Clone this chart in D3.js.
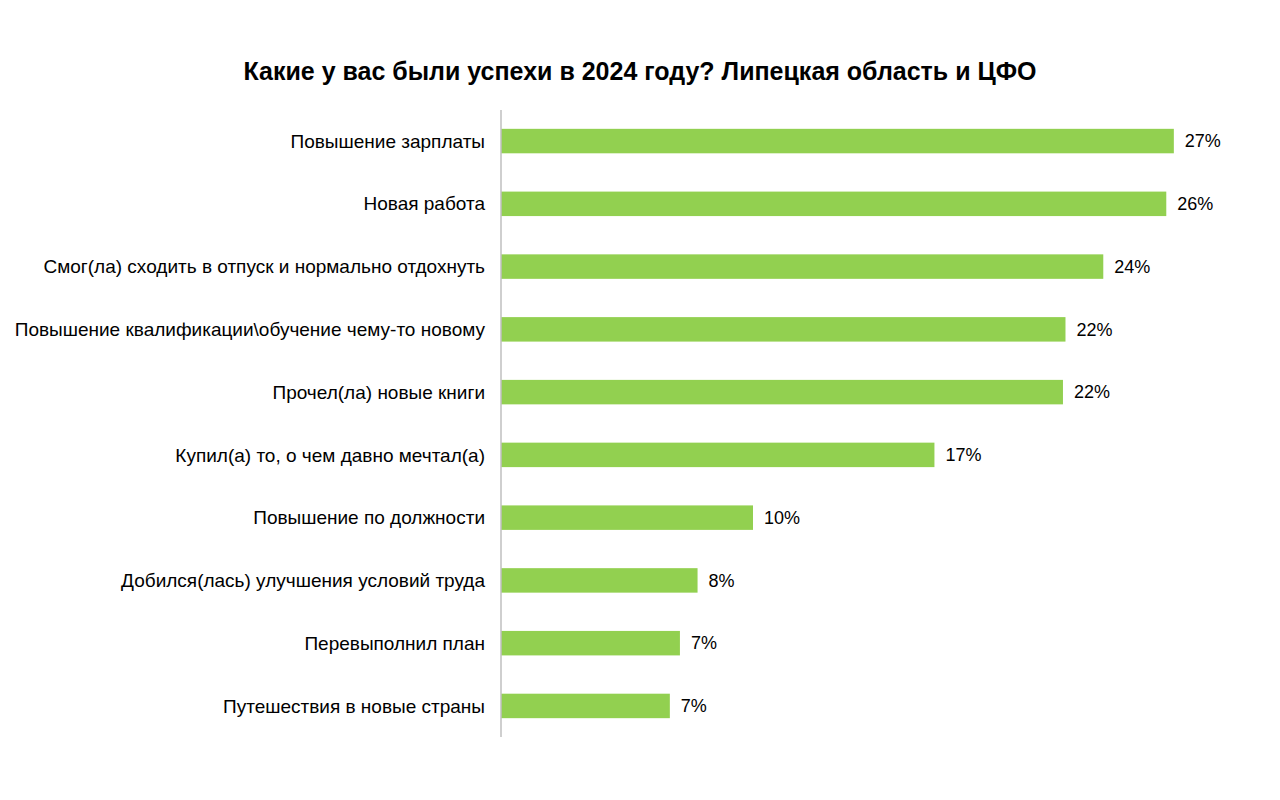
<!DOCTYPE html>
<html>
<head>
<meta charset="utf-8">
<script src="https://cdn.jsdelivr.net/npm/d3@7"></script>
<style>
  body { margin: 0; background: #fff; font-family: "Liberation Sans", Arial, sans-serif; }
</style>
</head>
<body>
<div id="chart"></div>
<script>
const categories = [
  "Повышение зарплаты",
  "Новая работа",
  "Смог(ла) сходить в отпуск и нормально отдохнуть",
  "Повышение квалификации\\обучение чему-то новому",
  "Прочел(ла) новые книги",
  "Купил(а) то, о чем давно мечтал(а)",
  "Повышение по должности",
  "Добился(лась) улучшения условий труда",
  "Перевыполнил план",
  "Путешествия в новые страны"
];
const values = [26.7, 26.4, 23.9, 22.4, 22.3, 17.2, 10.0, 7.8, 7.1, 6.7];
const title = "Какие у вас были успехи в 2024 году? Липецкая область и ЦФО";

const width = 1280, height = 800;
const svg = d3.select("#chart").append("svg")
  .attr("width", width)
  .attr("height", height);

svg.append("text")
  .attr("x", 640)
  .attr("y", 80)
  .attr("text-anchor", "middle")
  .style("font-size", "25px")
  .style("font-weight", "bold")
  .text(title);

const x = d3.scaleLinear().domain([0, 30]).range([501, 1257]);
const y = d3.scaleBand()
  .domain(categories)
  .range([110, 737])
  .paddingInner(0.61)
  .paddingOuter(0.3);

svg.selectAll("rect.bar")
  .data(values)
  .join("rect")
  .attr("class", "bar")
  .attr("x", x(0))
  .attr("y", (d, i) => y(categories[i]))
  .attr("width", d => x(d) - x(0))
  .attr("height", y.bandwidth())
  .attr("fill", "#92D050");

svg.selectAll("text.val")
  .data(values)
  .join("text")
  .attr("class", "val")
  .attr("x", d => x(d) + 11)
  .attr("y", (d, i) => y(categories[i]) + y.bandwidth() / 2)
  .attr("dy", "0.35em")
  .style("font-size", "18px")
  .text(d => Math.round(d) + "%");

svg.selectAll("text.cat")
  .data(categories)
  .join("text")
  .attr("class", "cat")
  .attr("x", 485)
  .attr("y", d => y(d) + y.bandwidth() / 2)
  .attr("dy", "0.35em")
  .attr("text-anchor", "end")
  .style("font-size", "19px")
  .text(d => d);

svg.append("line")
  .attr("x1", x(0)).attr("x2", x(0))
  .attr("y1", 110).attr("y2", 737)
  .attr("stroke", "#bfbfbf")
  .attr("stroke-width", 1.5);
</script>
</body>
</html>
